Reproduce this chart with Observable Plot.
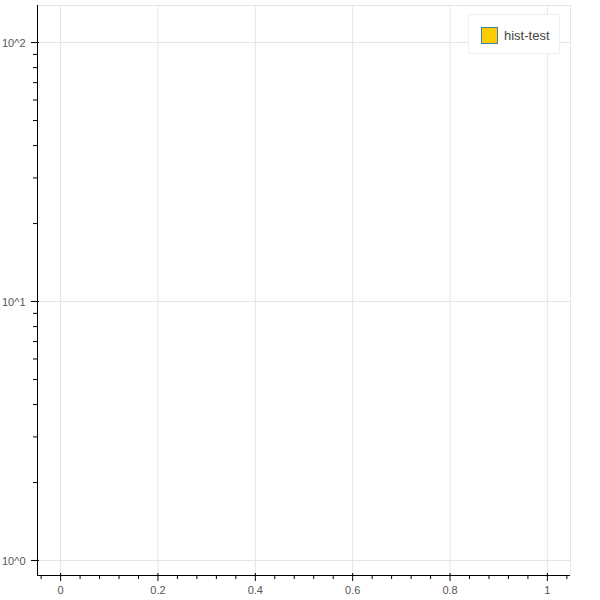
<!DOCTYPE html>
<html>
<head>
<meta charset="utf-8">
<script src="https://cdn.jsdelivr.net/npm/d3@7"></script>
<script src="https://cdn.jsdelivr.net/npm/@observablehq/plot@0.6"></script>
<style>
  html, body { margin: 0; padding: 0; background: #fff; overflow: hidden; }
  #wrap { position: relative; width: 600px; height: 600px; font-family: "Liberation Sans", Helvetica, Arial, sans-serif; }
  #legend { position: absolute; left: 468px; top: 14px; width: 92px; height: 40px; background: rgba(255,255,255,0.95); border: 1px solid rgba(229,229,229,0.6); box-sizing: border-box; }
  #legend .sw { position: absolute; left: 12px; top: 12px; width: 17px; height: 17px; box-sizing: border-box; border: 1px solid #3a7fb0; background: #ffcc00; }
  #legend .lb { position: absolute; left: 35px; top: 12px; font-size: 13px; color: #444; line-height: 17px; }
</style>
</head>
<body>
<div id="wrap"></div>
<script>
// Data (histogram "hist-test": no bars visible in the reference)
const seriesName = "hist-test";
const binLeft = [];
const binRight = [];
const binCounts = [];

const xMajorTicks = [0, 0.2, 0.4, 0.6, 0.8, 1];
const xMinorTicks = [-0.04, 0.04, 0.08, 0.12, 0.16, 0.24, 0.28, 0.32, 0.36, 0.44, 0.48, 0.52, 0.56, 0.64, 0.68, 0.72, 0.76, 0.84, 0.88, 0.92, 0.96, 1.04];
const yMajorTicks = [1, 10, 100];
const yMinorTicks = [2, 3, 4, 5, 6, 7, 8, 9, 20, 30, 40, 50, 60, 70, 80, 90];
const xDomain = [-0.0475, 1.0475];
const yDomain = [0.875, 139];

const bins = binCounts.map((c, i) => ({x1: binLeft[i], x2: binRight[i], count: c}));

const chart = Plot.plot({
  width: 600,
  height: 600,
  marginLeft: 37,
  marginRight: 30,
  marginTop: 5,
  marginBottom: 25,
  style: {fontFamily: '"Liberation Sans", Helvetica, Arial, sans-serif', fontSize: "11px", color: "#444", background: "white"},
  x: {domain: xDomain, axis: null},
  y: {type: "log", domain: yDomain, axis: null},
  marks: [
    Plot.frame({stroke: "#e5e5e5"}),
    Plot.ruleX(xMajorTicks, {stroke: "#e5e5e5"}),
    Plot.ruleY(yMajorTicks, {stroke: "#e5e5e5"}),
    Plot.rectY(bins, {x1: "x1", x2: "x2", y1: yDomain[0], y2: "count", fill: "#ffcc00", stroke: "#1f77b4"}),
    Plot.ruleX([xDomain[0]], {stroke: "black"}),
    Plot.ruleY([yDomain[0]], {stroke: "black"}),
    // Y axis ticks
    Plot.axisY(yMajorTicks, {anchor: "left", tickSize: 8, dx: 2, stroke: "black", tickFormat: () => "", label: null}),
    Plot.axisY(yMinorTicks, {anchor: "left", tickSize: 4, stroke: "black", tickFormat: () => "", label: null}),
    Plot.axisY(yMajorTicks, {anchor: "left", tickSize: 0, tickPadding: 12, dy: 1, fill: "#555", fontSize: 11, tickFormat: d => "10^" + Math.round(Math.log10(d)), label: null}),
    // X axis ticks
    Plot.axisX(xMajorTicks, {anchor: "bottom", tickSize: 8, dy: -2, stroke: "black", tickFormat: () => "", label: null}),
    Plot.axisX(xMinorTicks, {anchor: "bottom", tickSize: 4, stroke: "black", tickFormat: () => "", label: null}),
    Plot.axisX(xMajorTicks, {anchor: "bottom", tickSize: 0, tickPadding: 10, dy: 1, fill: "#555", fontSize: 11, tickFormat: d => String(d), label: null})
  ]
});

const wrap = document.getElementById("wrap");
wrap.appendChild(chart);
chart.style.position = "absolute";
chart.style.left = "0";
chart.style.top = "0";
chart.style.opacity = "0.999";

const legend = document.createElement("div");
legend.id = "legend";
legend.innerHTML = '<div class="sw"></div><div class="lb"></div>';
legend.querySelector(".lb").textContent = seriesName;
wrap.appendChild(legend);
</script>
</body>
</html>
